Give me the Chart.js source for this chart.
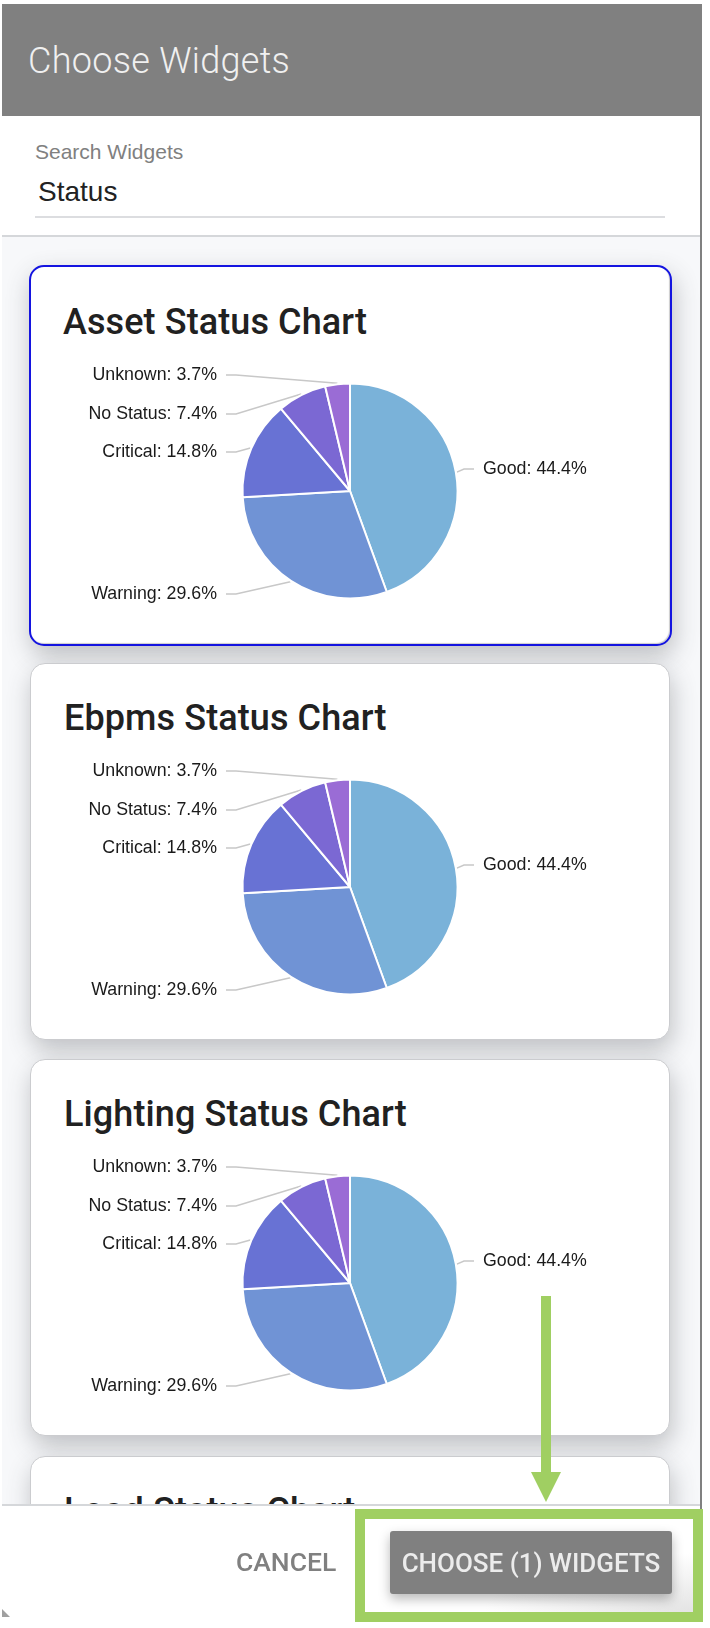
<!DOCTYPE html>
<html>
<head>
<meta charset="utf-8">
<title>Choose Widgets</title>
<script src="https://cdn.jsdelivr.net/npm/chart.js@4"></script>
<style>
  html, body { margin: 0; padding: 0; background: #fff; }
  body { position: relative; width: 710px; height: 1628px; overflow: hidden; font-family: "Liberation Sans", sans-serif; }
  .abs { position: absolute; }
  #content { left: 2px; top: 236px; width: 698px; height: 1270px; background: #f7f8fa; overflow: hidden; }
  #edge { left: 700px; top: 116px; width: 2px; height: 1393px; background: #808080; }
  #header { left: 2px; top: 4px; width: 700px; height: 112px; background: #808080; }
  #header span { position: absolute; left: 26px; top: 37px; font: 300 36px Roboto, sans-serif; line-height: 40px; color: #f0f0f0; letter-spacing: 0.3px; white-space: nowrap; }
  #search-label { left: 35px; top: 140px; font-size: 21px; line-height: 23px; color: #808080; }
  #search-value { left: 38px; top: 176px; font-size: 28px; line-height: 32px; color: #222; }
  #search-line { left: 35px; top: 216px; width: 630px; height: 2px; background: #dcdde0; }
  #divider { left: 2px; top: 235px; width: 698px; height: 2px; background: #d5d7da; }
  .card { left: 30px; width: 638px; height: 375px; background: #fff; border: 1px solid #cbcccf; border-radius: 15px; box-shadow: 2px 10px 24px rgba(60, 62, 68, 0.3); }
  .card.selected { left: 29px; width: 639px; height: 377px; border: 2px solid #1414e0; box-shadow: 2px 10px 24px rgba(60, 62, 68, 0.3), inset -1px -1px 1px #ccc; }
  .card h3 { position: absolute; left: 33px; top: 34px; margin: 0; font: 500 36px Roboto, sans-serif; line-height: 40px; letter-spacing: 0.1px; color: #212121; white-space: nowrap; }
  .card.selected h3 { left: 32px; top: 35px; }
  .pie { position: absolute; }
  #footer { left: 2px; top: 1504px; width: 698px; height: 124px; background: #fff; border-top: 2px solid #d5d7da; box-sizing: border-box; }
  #glow { left: 365px; top: 1519px; width: 328px; height: 93px; background: radial-gradient(ellipse at 100% 100%, #e4e4e4, #fff 45%); }
  #cancel { left: 236px; top: 1548px; font: 500 26.5px Roboto, sans-serif; line-height: 28px; color: #808080; }
  #choose { left: 390px; top: 1531px; width: 282px; height: 63px; background: #808080; border-radius: 3px; box-shadow: 0 5px 12px rgba(0, 0, 0, 0.28); color: #ececec; font: 500 26px Roboto, sans-serif; line-height: 65px; text-align: center; white-space: nowrap; }
  #frame { left: 355px; top: 1509px; width: 348px; height: 113px; border: 10px solid #a0cf62; box-sizing: border-box; }
  #shaft { left: 541px; top: 1296px; width: 10px; height: 177px; background: #a0cf62; }
  #arrow { left: 531px; top: 1472px; width: 30px; height: 30px; background: #a0cf62; clip-path: polygon(0 0, 100% 0, 50% 100%); }
  #corner { left: 2px; top: 1609px; width: 8px; height: 8px; background: #a0a0a0; clip-path: polygon(0 0, 100% 100%, 0 100%); }
</style>
</head>
<body>
<div id="content" class="abs"></div>
<div id="edge" class="abs"></div>
<div id="header" class="abs"><span>Choose Widgets</span></div>
<div id="search-label" class="abs">Search Widgets</div>
<div id="search-value" class="abs">Status</div>
<div id="search-line" class="abs"></div>
<div id="divider" class="abs"></div>
<div id="cards"></div>
<div id="footer" class="abs"></div>
<div id="glow" class="abs"></div>
<div id="cancel" class="abs">CANCEL</div>
<div id="choose" class="abs">CHOOSE (1) WIDGETS</div>
<div id="frame" class="abs"></div>
<div id="shaft" class="abs"></div>
<div id="arrow" class="abs"></div>
<div id="corner" class="abs"></div>

<script>
const STATUS_LABELS = ["Good", "Warning", "Critical", "No Status", "Unknown"];
const STATUS_VALUES = [44.4, 29.6, 14.8, 7.4, 3.7];
const STATUS_COLORS = ["#7ab2d9", "#7093d5", "#6872d4", "#7b68d3", "#9a6cd5"];
const CARD_TITLES = ["Asset Status Chart", "Ebpms Status Chart", "Lighting Status Chart", "Load Status Chart"];
const CARD_TOPS = [265, 663, 1059, 1456];

// label heights are set by hand, offset from the pie centre
const LABEL_OFFSETS = [-22, 103, -39, -77, -116];
const LABEL_X = 133;
const PIE_RADIUS = 107.5;

const pieLabels = {
  id: "pieLabels",
  beforeDatasetsDraw(chart) {
    const ctx = chart.ctx;
    const arcs = chart.getDatasetMeta(0).data;
    ctx.save();
    ctx.strokeStyle = "#c8c8c8";
    ctx.lineWidth = 1.5;
    arcs.forEach((arc, i) => {
      const mid = (arc.startAngle + arc.endAngle) / 2;
      const side = Math.cos(mid) >= 0 ? 1 : -1;
      const y = arc.y + LABEL_OFFSETS[i];
      ctx.beginPath();
      ctx.moveTo(arc.x + side * (LABEL_X - 9), y);
      ctx.lineTo(arc.x + side * (LABEL_X - 19), y);
      ctx.lineTo(arc.x + Math.cos(mid) * (arc.outerRadius + 1), arc.y + Math.sin(mid) * (arc.outerRadius + 1));
      ctx.stroke();
    });
    ctx.restore();
  },
  afterDatasetsDraw(chart) {
    const ctx = chart.ctx;
    const arcs = chart.getDatasetMeta(0).data;
    ctx.save();
    ctx.font = '17.8px "Liberation Sans", sans-serif';
    ctx.fillStyle = "#1a1a1a";
    ctx.textBaseline = "middle";
    arcs.forEach((arc, i) => {
      const mid = (arc.startAngle + arc.endAngle) / 2;
      const side = Math.cos(mid) >= 0 ? 1 : -1;
      ctx.textAlign = side > 0 ? "left" : "right";
      const text = `${STATUS_LABELS[i]}: ${STATUS_VALUES[i].toFixed(1)}%`;
      ctx.fillText(text, arc.x + side * LABEL_X, arc.y + LABEL_OFFSETS[i]);
    });
    ctx.restore();
  },
};

function renderCard(title, index) {
  const card = document.createElement("div");
  card.className = index === 0 ? "card abs selected" : "card abs";
  card.style.top = `${CARD_TOPS[index]}px`;
  card.innerHTML = `<h3>${title}</h3>`;
  document.getElementById("cards").appendChild(card);

  const canvas = document.createElement("canvas");
  canvas.className = "pie";
  canvas.width = 640;
  canvas.height = 270;
  canvas.style.left = "-1px";
  canvas.style.top = `${index === 0 ? 89 : 88}px`;
  card.appendChild(canvas);

  new Chart(canvas, {
    type: "pie",
    data: {
      labels: STATUS_LABELS,
      datasets: [{
        data: STATUS_VALUES,
        backgroundColor: STATUS_COLORS,
        borderColor: "#fff",
        borderWidth: 2,
        radius: PIE_RADIUS,
      }],
    },
    options: {
      responsive: false,
      animation: false,
      events: [],
      plugins: { legend: { display: false }, tooltip: { enabled: false } },
    },
    plugins: [pieLabels],
  });
}

CARD_TITLES.forEach(renderCard);
</script>
</body>
</html>
